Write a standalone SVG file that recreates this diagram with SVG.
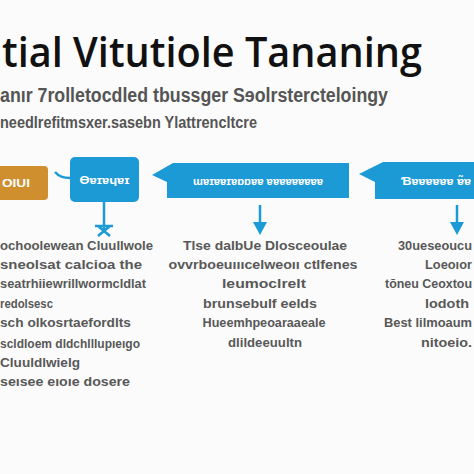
<svg xmlns="http://www.w3.org/2000/svg" width="474" height="474" viewBox="0 0 474 474">
<style>
.title{font-family:"Open Sans","Liberation Sans",sans-serif;font-weight:600;font-size:42px;fill:#111}
.sub{font-family:"Liberation Sans",Arial,sans-serif;font-weight:bold;fill:#555}
.body{font-family:"Liberation Sans",Arial,sans-serif;font-weight:bold;font-size:13.5px;fill:#585858}
.body3{font-family:"Liberation Sans",Arial,sans-serif;font-weight:bold;font-size:12.5px;fill:#585858}
.lbl{font-family:"Liberation Sans",Arial,sans-serif;font-weight:bold;font-size:11px;fill:#fff}
.blue{fill:#1b9ad6}
.conn{stroke:#1b9ad6;stroke-width:2.5;fill:none}
.head{fill:#1b9ad6}
</style>
<rect width="474" height="474" fill="#fbfbfb"/>
<g id="title">
<text class="title" x="2" y="67" textLength="420" lengthAdjust="spacingAndGlyphs">tial Vitutiole Tananing</text>
<text class="sub" x="0" y="102" font-size="20" textLength="388" lengthAdjust="spacingAndGlyphs">anır 7rolletocdled tbussger Sɘolrstercteloingy</text>
<text class="sub" x="0" y="128" font-size="16" textLength="257" lengthAdjust="spacingAndGlyphs">needlrefitmsxer.sasebn Ylattrencltcre</text>
</g>
<g id="node-orange">
<rect x="-6" y="166" width="54" height="34" rx="4" fill="#d08f2e"/>
<text class="lbl" x="2" y="187" textLength="28" lengthAdjust="spacingAndGlyphs">OIUI</text>
</g>
<g id="node-1">
<rect x="70" y="157" width="69" height="45" rx="5" class="blue"/>
<text class="lbl" x="104.5" y="184" text-anchor="middle" textLength="50" lengthAdjust="spacingAndGlyphs">Ɵɐɪɐɥɐɪ</text>
</g>
<g id="node-2">
<path d="M152,175 L173,163 L349,163 L349,198 L167,198 L167,182 Z" class="blue"/>
<text class="lbl" x="258" y="185" text-anchor="middle" textLength="130" lengthAdjust="spacingAndGlyphs">ɯɐɪɐɐɪɐɒɒɐɐ ɐɐɐɐɐɐɐɐɐ</text>
</g>
<g id="node-3">
<path d="M359,174 L383,162 L480,162 L480,199 L375,199 L375,182 Z" class="blue"/>
<text class="lbl" x="401" y="185" textLength="70" lengthAdjust="spacingAndGlyphs">Ɓɐɐɐɐɐɐ ɐ̃ɐ</text>
</g>
<g id="connectors">
<path class="conn" d="M55,172 Q60,178 70,178"/>
<path class="conn" d="M104,202 L104,232"/>
<path d="M95,226 L113,226 M98,236 L110,226 M98,226 L110,236" stroke="#1b9ad6" stroke-width="2.5" fill="none"/>
<path class="conn" d="M260,205 L260,224"/>
<path class="head" d="M253,222 L267,222 L260,235 Z"/>
<path class="conn" d="M457,205 L457,224"/>
<path class="head" d="M450,222 L464,222 L457,235 Z"/>
</g>
<g id="col-1">
<text class="body" x="0" y="250" textLength="153" lengthAdjust="spacingAndGlyphs">ochoolewean Cluullwole</text>
<text class="body" x="0" y="269" textLength="142" lengthAdjust="spacingAndGlyphs">sneolsat calcioa the</text>
<text class="body" x="0" y="288" textLength="146" lengthAdjust="spacingAndGlyphs">seatrhiiewrillwormcldlat</text>
<text class="body" x="0" y="308" textLength="53" lengthAdjust="spacingAndGlyphs">redolsesc</text>
<text class="body" x="0" y="327" textLength="131" lengthAdjust="spacingAndGlyphs">sch olkosrtaefordlts</text>
<text class="body" x="0" y="348" textLength="140" lengthAdjust="spacingAndGlyphs">scldloem dldchlllupıeıgo</text>
<text class="body" x="0" y="367" textLength="80" lengthAdjust="spacingAndGlyphs">Cluuldlwielg</text>
<text class="body" x="0" y="386" textLength="130" lengthAdjust="spacingAndGlyphs">seısee eıoıe dosere</text>
</g>
<g id="col-2">
<text class="body" x="265" y="250" text-anchor="middle" textLength="164" lengthAdjust="spacingAndGlyphs">Tlse dalbUe Dlosceoulae</text>
<text class="body" x="263" y="269" text-anchor="middle" textLength="189" lengthAdjust="spacingAndGlyphs">ovvrboeuıııcelweoıı ctlfenes</text>
<text class="body" x="264" y="288" text-anchor="middle" textLength="84" lengthAdjust="spacingAndGlyphs">leumoclrelt</text>
<text class="body" x="260" y="308" text-anchor="middle" textLength="114" lengthAdjust="spacingAndGlyphs">brunsebulf eelds</text>
<text class="body" x="264" y="327" text-anchor="middle" textLength="123" lengthAdjust="spacingAndGlyphs">Hueemhpeoaraaeale</text>
<text class="body" x="265" y="347" text-anchor="middle" textLength="74" lengthAdjust="spacingAndGlyphs">dlildeeuultn</text>
</g>
<g id="col-3">
<text class="body3" x="398" y="250" textLength="74" lengthAdjust="spacingAndGlyphs">30ueseoucu</text>
<text class="body3" x="425" y="269" textLength="47" lengthAdjust="spacingAndGlyphs">Loeoıor</text>
<text class="body3" x="385" y="288" textLength="87" lengthAdjust="spacingAndGlyphs">tōneu Ceoxtou</text>
<text class="body3" x="425" y="308" textLength="44" lengthAdjust="spacingAndGlyphs">lodoth</text>
<text class="body3" x="384" y="327" textLength="88" lengthAdjust="spacingAndGlyphs">Best lilmoaum</text>
<text class="body3" x="421" y="347" textLength="51" lengthAdjust="spacingAndGlyphs">nitoeio.</text>
</g>
</svg>
